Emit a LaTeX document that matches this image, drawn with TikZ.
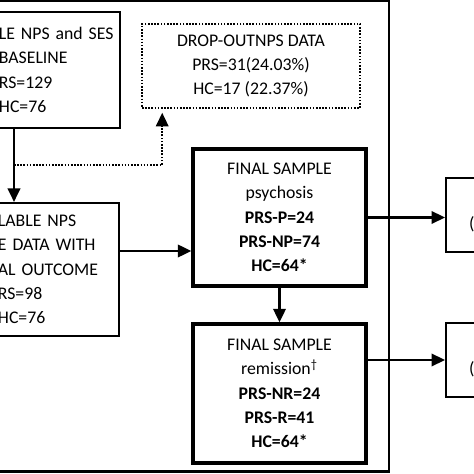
\documentclass[tikz,border=0pt]{standalone}
\usepackage{fontspec}
\setmainfont{Carlito}
\usepackage{tikz}
\usetikzlibrary{calc, arrows.meta}
\tikzstyle{arrow}    = [line width=1.2pt,-{Triangle[length=0.27cm,width=0.25cm]}]

\begin{document}
\begin{tikzpicture}[
    box/.style={draw,line width=1.2pt,font=\fontsize{10.1}{13.8}\selectfont},
    cutbox/.style={box,anchor=east,align=left,text width=2.4cm,inner xsep=0.02cm},
    finalbox/.style={box,line width=1.9pt,align=center,minimum width=3.46cm},
    sidebox/.style={box,anchor=west,align=left,text width=1cm,inner xsep=0.46cm,
      minimum height=1.48cm,text height=18pt},
  ]
  \useasboundingbox (0,0) rectangle (9.48,9.48);
  \clip (0,0) rectangle (9.48,9.48);
  % outer frame
  \draw[line width=1.2pt] (-1,0.05) rectangle (7.78,9.46);

  \node[cutbox,minimum height=2.32cm] (base) at (2.42,8.08)
    {LE NPS and SES\\BASELINE\\RS=129\\HC=76};
  \node[cutbox,minimum height=2.66cm] (avail) at (2.40,4.09)
    {LABLE NPS\\E DATA WITH\\AL OUTCOME\\RS=98\\HC=76};
  \node[box,align=center,minimum width=4.36cm,minimum height=1.68cm,
    line width=0.9pt,dash pattern=on 0.9pt off 0.9pt] (drop) at (5.02,8.16)
    {DROP-OUTNPS DATA\\PRS=31(24.03\%)\\HC=17 (22.37\%)};
  \node[finalbox,minimum height=2.74cm] (psy) at (5.59,5.13)
    {FINAL SAMPLE\\psychosis\\\textbf{PRS-P=24}\\\textbf{PRS-NP=74}\\\textbf{HC=64*}};
  \node[finalbox,minimum height=2.78cm] (rem) at (5.59,1.61)
    {FINAL SAMPLE\\remission\textsuperscript{†}\\\textbf{PRS-NR=24}\\\textbf{PRS-R=41}\\\textbf{HC=64*}};
  \node[sidebox] (outp) at (8.90,5.18) {(};
  \node[sidebox] (outr) at (8.90,2.28) {(};

  \coordinate (split) at (0.28,6.18);
  \draw[arrow] (base.south -| split) -- (avail.north -| split);
  \draw[arrow,line width=0.9pt,dash pattern=on 0.9pt off 0.9pt,shorten >=0.08cm]
    (split) -| ([xshift=0.42cm]drop.south west);
  \draw[arrow] ([yshift=0.37cm]avail.east) -- ([yshift=0.37cm]avail.east -| psy.west);
  \draw[arrow] (psy.south) -- (rem.north);
  \draw[arrow] (psy.east) -- (psy.east -| outp.west);
  \draw[arrow] (outr.west -| rem.east) -- (outr.west);
\end{tikzpicture}
\end{document}
